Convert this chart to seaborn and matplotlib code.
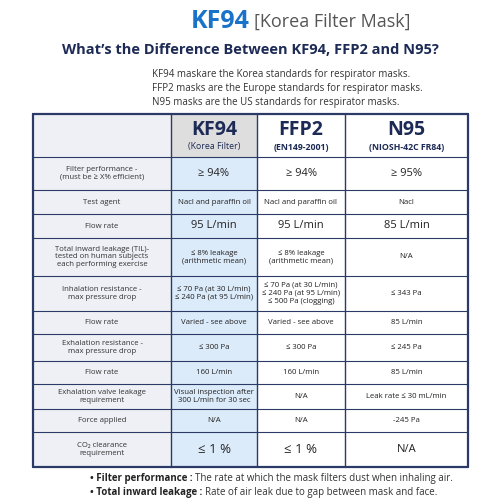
import matplotlib
matplotlib.use("Agg")
import matplotlib.pyplot as plt
import seaborn as sns
from matplotlib.patches import Rectangle

sns.set_theme(style="white")
plt.rcParams['font.family'] = ['Open Sans', 'DejaVu Sans']

columns = ["KF94", "FFP2", "N95"]
column_subs = ["(Korea Filter)", "(EN149-2001)", "(NIOSH-42C FR84)"]
row_labels = ["Filter performance -\n(must be ≥ X% efficient)", "Test agent", "Flow rate",
              "Total inward leakage (TIL)-\ntested on human subjects\neach performing exercise",
              "Inhalation resistance -\nmax pressure drop", "Flow rate",
              "Exhalation resistance -\nmax pressure drop", "Flow rate",
              "Exhalation valve leakage\nrequirement", "Force applied", "CO₂ clearance\nrequirement"]
kf94 = ["≥ 94%", "Nacl and paraffin oil", "95 L/min", "≤ 8% leakage\n(arithmetic mean)",
        "≤ 70 Pa (at 30 L/min)\n≤ 240 Pa (at 95 L/min)", "Varied - see above", "≤ 300 Pa",
        "160 L/min", "Visual inspection after\n300 L/min for 30 sec", "N/A", "≤ 1 %"]
ffp2 = ["≥ 94%", "Nacl and paraffin oil", "95 L/min", "≤ 8% leakage\n(arithmetic mean)",
        "≤ 70 Pa (at 30 L/min)\n≤ 240 Pa (at 95 L/min)\n≤ 500 Pa (clogging)", "Varied - see above",
        "≤ 300 Pa", "160 L/min", "N/A", "N/A", "≤ 1 %"]
n95 = ["≥ 95%", "Nacl", "85 L/min", "N/A", "≤ 343 Pa", "85 L/min", "≤ 245 Pa", "85 L/min",
       "Leak rate ≤ 30 mL/min", "-245 Pa", "N/A"]
big_rows = {0, 2, 10}

col_x = [33, 171, 257, 345, 468]
row_y = [114, 157, 190, 214, 238, 276, 311, 334, 361, 384, 409, 432, 467]
navy = "#2b3a67"
blue = "#1a73c9"

fig = plt.figure(figsize=(5, 5), dpi=100)
ax = fig.add_axes([0, 0, 1, 1])
ax.set_xlim(0, 500); ax.set_ylim(500, 0); ax.axis("off")

ax.add_patch(Rectangle((col_x[0], row_y[0]), col_x[1]-col_x[0], row_y[-1]-row_y[0], color="#eef0f5", lw=0))
ax.add_patch(Rectangle((col_x[1], row_y[0]), col_x[2]-col_x[1], row_y[1]-row_y[0], color="#dedede", lw=0))
ax.add_patch(Rectangle((col_x[1], row_y[1]), col_x[2]-col_x[1], row_y[-1]-row_y[1], color="#dcebfa", lw=0))
for x in col_x:
    ax.plot([x, x], [row_y[0], row_y[-1]], color=navy, lw=1.0 if x not in (col_x[0], col_x[-1]) else 1.6)
for i, y in enumerate(row_y):
    ax.plot([col_x[0], col_x[-1]], [y, y], color=navy, lw=1.6 if i in (0, len(row_y)-1) else 0.8)

for j, (c, s) in enumerate(zip(columns, column_subs)):
    cx = (col_x[j+1] + col_x[j+2]) / 2
    ax.text(cx, 130, c, ha="center", va="center", fontsize=14, fontweight="bold", color="#1c2a55")
    ax.text(cx, 147, s, ha="center", va="center", fontsize=6.3, fontweight="bold" if j else "normal", color="#1c2a55")

for i, lab in enumerate(row_labels):
    cy = (row_y[i+1] + row_y[i+2]) / 2
    ax.text((col_x[0]+col_x[1])/2, cy, lab, ha="center", va="center", fontsize=5.6, color="#333333", linespacing=1.15)
    for j, vals in enumerate([kf94, ffp2, n95]):
        cx = (col_x[j+1] + col_x[j+2]) / 2
        fs = 8 if i in big_rows else 5.6
        if i == 10 and j < 2:
            fs = 9.5
        ax.text(cx, cy, vals[i], ha="center", va="center", fontsize=fs, color="#222222", linespacing=1.2)

ax.text(250, 22, "KF94", ha="right", va="center", fontsize=18, fontweight="bold", color=blue)
ax.text(254, 22, "[Korea Filter Mask]", ha="left", va="center", fontsize=13, color="#555555")
ax.text(250, 50, "What’s the Difference Between KF94, FFP2 and N95?", ha="center", va="center",
        fontsize=10.5, fontweight="bold", color="#1c2a55")
desc = ["KF94 maskare the Korea standards for respirator masks.",
        "FFP2 masks are the Europe standards for respirator masks.",
        "N95 masks are the US standards for respirator masks."]
for k, d in enumerate(desc):
    ax.text(152, 74 + k*14.5, d, ha="left", va="center", fontsize=7, color="#333333")

fig.canvas.draw()
r = fig.canvas.get_renderer()
for yy, b, t in [(478, "• Filter performance : ", "The rate at which the mask filters dust when inhaling air."),
                 (493, "• Total inward leakage : ", "Rate of air leak due to gap between mask and face.")]:
    tb = ax.text(90, yy, b, ha="left", va="center", fontsize=7, fontweight="bold", color="#222222")
    ext = tb.get_window_extent(r)
    x1 = ax.transData.inverted().transform((ext.x1, ext.y0))[0]
    ax.text(x1, yy, t, ha="left", va="center", fontsize=7, color="#333333")

fig.savefig("out.png", dpi=100, facecolor="white")
